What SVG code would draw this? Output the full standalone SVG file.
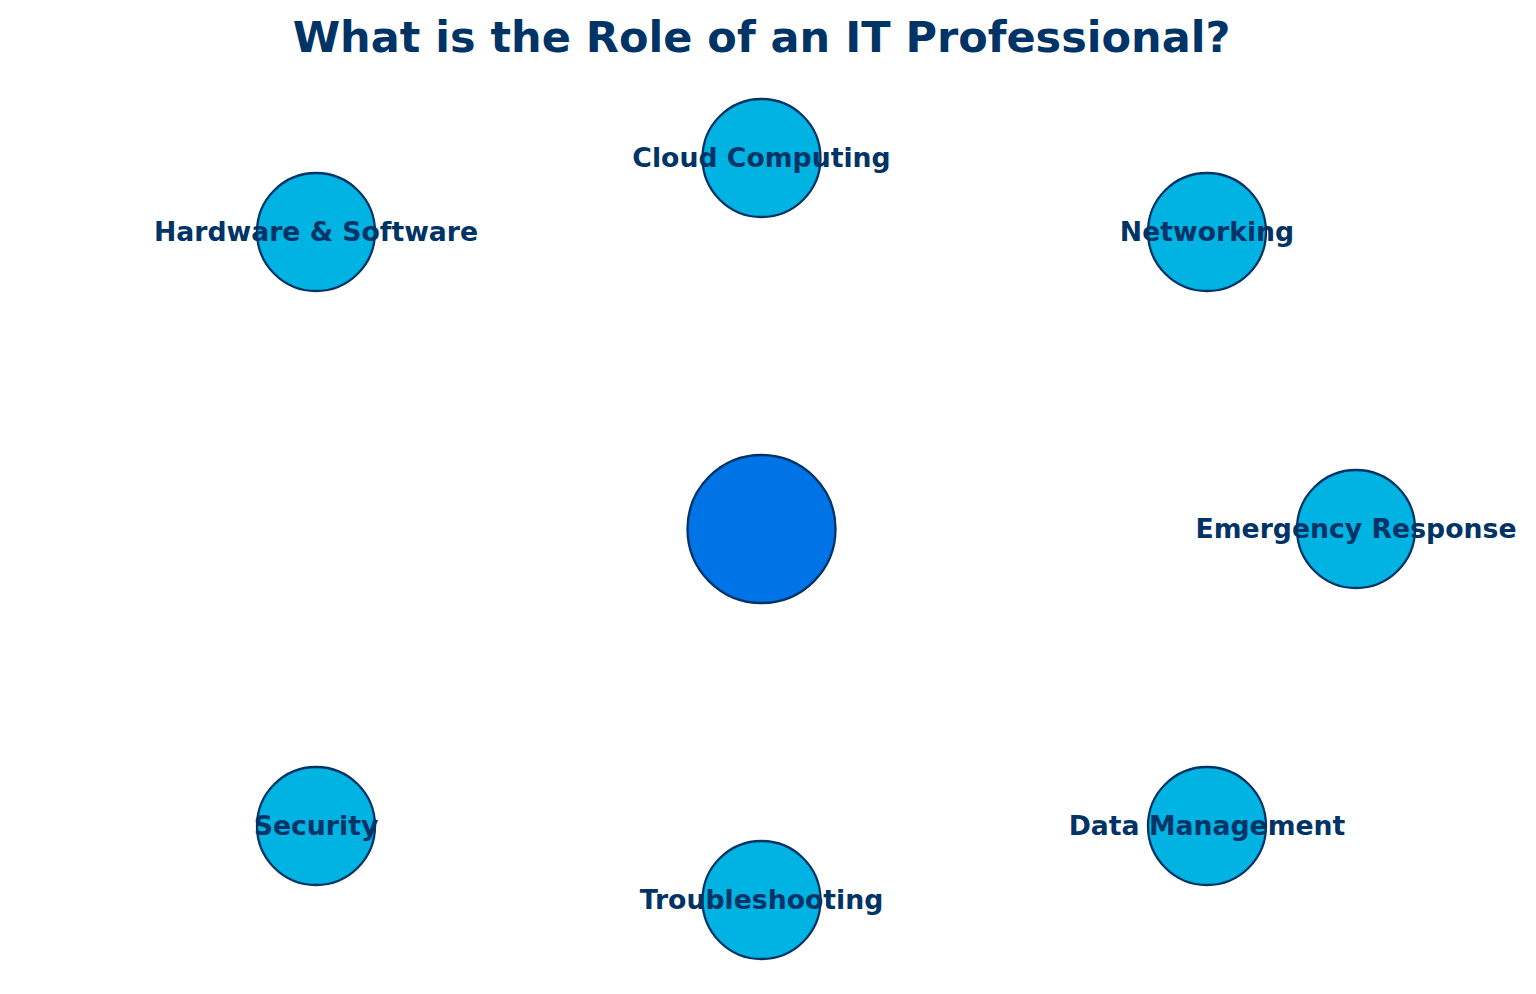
<svg xmlns="http://www.w3.org/2000/svg" width="1536" height="994" viewBox="0 0 1536 994">
<style>
.title{font-family:"DejaVu Sans",sans-serif;font-weight:bold;font-size:43px;fill:#003366;text-anchor:middle}
.outer{fill:#00B3E3;stroke:#003366;stroke-width:2.3}
.center{fill:#0073E6;stroke:#003366;stroke-width:2.3}
.lbl{font-family:"DejaVu Sans",sans-serif;font-weight:bold;font-size:26.7px;fill:#003366;text-anchor:middle}
</style>
<rect width="1536" height="994" fill="#ffffff"/>
<text class="title" x="761.5" y="52">What is the Role of an IT Professional?</text>
<g id="connectors"></g>
<g id="center"><circle class="center" cx="761.5" cy="529" r="74"/></g>
<g id="cloud-computing"><circle class="outer" cx="761.5" cy="158" r="59"/><text class="lbl" x="761.5" y="166.5">Cloud Computing</text></g>
<g id="hardware-software"><circle class="outer" cx="316" cy="232" r="59"/><text class="lbl" x="316" y="240.5">Hardware &amp; Software</text></g>
<g id="networking"><circle class="outer" cx="1207" cy="232" r="59"/><text class="lbl" x="1207" y="240.5">Networking</text></g>
<g id="emergency-response"><circle class="outer" cx="1356" cy="529" r="59"/><text class="lbl" x="1356" y="537.5">Emergency Response</text></g>
<g id="data-management"><circle class="outer" cx="1207" cy="826" r="59"/><text class="lbl" x="1207" y="834.5">Data Management</text></g>
<g id="troubleshooting"><circle class="outer" cx="761.5" cy="900" r="59"/><text class="lbl" x="761.5" y="908.5">Troubleshooting</text></g>
<g id="security"><circle class="outer" cx="316" cy="826" r="59"/><text class="lbl" x="316" y="834.5">Security</text></g>
</svg>
